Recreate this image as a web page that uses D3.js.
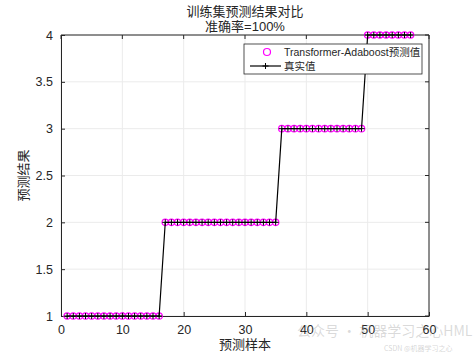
<!DOCTYPE html>
<html>
<head>
<meta charset="utf-8">
<script src="https://cdn.jsdelivr.net/npm/d3@7"></script>
<style>
  body { margin: 0; background: #fff; }
  svg { display: block; }
  text { font-family: "Liberation Sans", Arial, "Noto Sans CJK SC", sans-serif; fill: #262626; }
</style>
</head>
<body>
<div id="chart"></div>
<script>
// class labels per training sample (1..57)
var classes = [1, 2, 3, 4];
var classCounts = [16, 19, 14, 8];
var trueValues = [];
classes.forEach(function (c, i) {
  for (var k = 0; k < classCounts[i]; k++) trueValues.push(c);
});
var predValues = trueValues.slice(); // accuracy 100%
var xTicks = [0, 10, 20, 30, 40, 50, 60];
var yTicks = [1, 1.5, 2, 2.5, 3, 3.5, 4];

var W = 474, H = 355;
var margin = {left: 61, top: 35, right: 45, bottom: 39};
var iw = W - margin.left - margin.right;
var ih = H - margin.top - margin.bottom;

var svg = d3.select('#chart').append('svg')
  .attr('width', W)
  .attr('height', H);

var x = d3.scaleLinear().domain([0, 60]).range([0, iw]);
var y = d3.scaleLinear().domain([1, 4]).range([ih, 0]);

var g = svg.append('g').attr('transform', 'translate(' + margin.left + ',' + margin.top + ')');

// grid
g.selectAll('.gx').data(xTicks).enter().append('line')
  .attr('x1', d => x(d)).attr('x2', d => x(d))
  .attr('y1', 0).attr('y2', ih)
  .attr('stroke', '#ebebeb');
g.selectAll('.gy').data(yTicks).enter().append('line')
  .attr('x1', 0).attr('x2', iw)
  .attr('y1', d => y(d)).attr('y2', d => y(d))
  .attr('stroke', '#ebebeb');

// axes
var xAxis = g.append('g').attr('transform', 'translate(0,' + ih + ')')
  .call(d3.axisBottom(x).tickValues(xTicks).tickSizeInner(-4).tickSizeOuter(0).tickPadding(9));
var yAxis = g.append('g')
  .call(d3.axisLeft(y).tickValues(yTicks).tickFormat(d3.format('~g')).tickSizeInner(-4).tickSizeOuter(0).tickPadding(8));
[xAxis, yAxis].forEach(function (a) {
  a.select('.domain').attr('stroke', '#262626');
  a.selectAll('.tick line').attr('stroke', '#262626');
  a.selectAll('.tick text').style('font-size', '12.5px').attr('fill', '#333');
});
// box
g.append('path')
  .attr('d', 'M0,0H' + iw + 'V' + ih)
  .attr('fill', 'none').attr('stroke', '#262626');
g.selectAll('.txTop').data(xTicks).enter().append('line')
  .attr('x1', d => x(d)).attr('x2', d => x(d)).attr('y1', 0).attr('y2', 4).attr('stroke', '#262626');
g.selectAll('.tyRight').data(yTicks).enter().append('line')
  .attr('x1', iw - 4).attr('x2', iw).attr('y1', d => y(d)).attr('y2', d => y(d)).attr('stroke', '#262626');

// predicted: magenta circles
g.selectAll('.pred').data(predValues).enter().append('circle')
  .attr('cx', (d, i) => x(i + 1))
  .attr('cy', d => y(d))
  .attr('r', 3.2)
  .attr('fill', 'none')
  .attr('stroke', '#ff00ff')
  .attr('stroke-width', 1.2);

// true values: black line with + markers
var line = d3.line().x((d, i) => x(i + 1)).y(d => y(d));
g.append('path').datum(trueValues)
  .attr('d', line)
  .attr('fill', 'none').attr('stroke', '#000').attr('stroke-width', 1.2);
g.selectAll('.plus').data(trueValues).enter().append('path')
  .attr('transform', (d, i) => 'translate(' + x(i + 1) + ',' + y(d) + ')')
  .attr('d', 'M-3,0H3M0,-3V3')
  .attr('stroke', '#000').attr('stroke-width', 1);

// titles
svg.append('text').attr('x', 245).attr('y', 16).attr('text-anchor', 'middle')
  .style('font-family', '"Noto Sans CJK SC", sans-serif').style('font-size', '13px')
  .text('训练集预测结果对比');
svg.append('text').attr('x', 245).attr('y', 31).attr('text-anchor', 'middle')
  .style('font-size', '13px')
  .text('准确率=100%');

// axis labels
svg.append('text').attr('x', 245).attr('y', 349).attr('text-anchor', 'middle')
  .style('font-family', '"Noto Sans CJK SC", sans-serif').style('font-size', '13px')
  .text('预测样本');
svg.append('text').attr('transform', 'translate(28,' + (margin.top + ih / 2) + ') rotate(-90)')
  .attr('text-anchor', 'middle')
  .style('font-family', '"Noto Sans CJK SC", sans-serif').style('font-size', '13px')
  .text('预测结果');

// legend
var lg = svg.append('g').attr('transform', 'translate(244,44)');
lg.append('rect').attr('width', 178).attr('height', 30)
  .attr('fill', '#fff').attr('stroke', '#262626').attr('stroke-width', 0.8);
lg.append('circle').attr('cx', 23).attr('cy', 8).attr('r', 3.5)
  .attr('fill', 'none').attr('stroke', '#ff00ff').attr('stroke-width', 1.2);
lg.append('text').attr('x', 40).attr('y', 12).style('font-size', '10.5px')
  .text('Transformer-Adaboost预测值');
lg.append('line').attr('x1', 6).attr('x2', 37).attr('y1', 22).attr('y2', 22)
  .attr('stroke', '#000').attr('stroke-width', 1.2);
lg.append('path').attr('d', 'M18.5,22H24.5M21.5,19V25').attr('stroke', '#000');
lg.append('text').attr('x', 40).attr('y', 26).style('font-size', '10.5px')
  .text('真实值');

// watermark
svg.append('text').attr('x', 297).attr('y', 336)
  .style('font-family', '"Noto Sans CJK SC", sans-serif').style('font-size', '14px')
  .style('fill', 'rgba(150,150,150,0.35)')
  .text('公众号 · 机器学习之心HML');
svg.append('text').attr('x', 384).attr('y', 351)
  .style('font-family', '"Noto Sans CJK SC", sans-serif').style('font-size', '7px')
  .style('fill', 'rgba(150,150,150,0.4)')
  .text('CSDN @机器学习之心');
</script>
</body>
</html>
